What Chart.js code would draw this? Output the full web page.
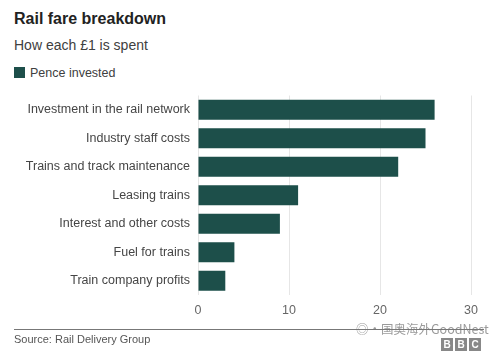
<!DOCTYPE html>
<html>
<head>
<meta charset="utf-8">
<script src="https://cdn.jsdelivr.net/npm/chart.js@4"></script>
<style>
    body { margin: 0; width: 498px; height: 354px; background: #fff; font-family: "Liberation Sans", Arial, sans-serif; position: relative; overflow: hidden; }
    .title { position: absolute; left: 14px; top: 10px; font-size: 16px; font-weight: bold; color: #222; }
    .subtitle { position: absolute; left: 14px; top: 37px; font-size: 14px; color: #404040; }
    .legend { position: absolute; left: 14px; top: 66px; font-size: 12.5px; color: #404040; }
    .legend span.box { display: inline-block; width: 11px; height: 11px; background: #1d4f4a; vertical-align: -1px; margin-right: 5px; }
    #wrap { position: absolute; left: 0; top: 80px; width: 498px; height: 246px; }
    .rule { position: absolute; left: 14px; top: 329px; width: 470px; height: 1px; background: #777; }
    .source { position: absolute; left: 14px; top: 333px; font-size: 11px; color: #555; }
    .bbc { position: absolute; left: 441px; top: 334px; }
    .bbc span { display: inline-block; width: 12px; height: 13px; background: #888; color: #fff; font-size: 10px; font-weight: bold; text-align: center; line-height: 13px; margin-right: 2px; }
    .mark { position: absolute; left: 356px; top: 319px; font-size: 12.5px; color: rgba(120,120,120,0.75); font-family: "Noto Sans CJK SC", sans-serif; }
</style>
</head>
<body>
<div class="title">Rail fare breakdown</div>
<div class="subtitle">How each £1 is spent</div>
<div class="legend"><span class="box"></span>Pence invested</div>
<div id="wrap"><canvas id="chart"></canvas></div>
<div class="rule"></div>
<div class="source">Source: Rail Delivery Group</div>
<div class="mark">◎·国奥海外GoodNest</div>
<div class="bbc"><span>B</span><span>B</span><span>C</span></div>
<script>
// 항목과 값 (펜스)
const categories = [
    'Investment in the rail network',
    'Industry staff costs',
    'Trains and track maintenance',
    'Leasing trains',
    'Interest and other costs',
    'Fuel for trains',
    'Train company profits'
];
const penceValues = [26, 25, 22, 11, 9, 4, 3];
const xTicks = [0, 10, 20, 30];

const ctx = document.getElementById('chart').getContext('2d');
new Chart(ctx, {
    type: 'bar',
    data: {
        labels: categories,
        datasets: [{
            label: 'Pence invested',
            data: penceValues,
            backgroundColor: '#1d4f4a',
            barPercentage: 0.7,
            categoryPercentage: 1
        }]
    },
    options: {
        indexAxis: 'y',
        responsive: true,
        maintainAspectRatio: false,
        animation: false,
        layout: { padding: { top: 5, right: 27, left: 0, bottom: 0 } },
        plugins: {
            legend: { display: false },
            tooltip: { enabled: false }
        },
        scales: {
            x: {
                min: xTicks[0],
                max: xTicks[xTicks.length - 1],
                afterBuildTicks: (scale) => { scale.ticks = xTicks.map(v => ({ value: v })); },
                grid: { color: '#e6e6e6', drawTicks: false },
                border: { display: false },
                ticks: { color: '#666', font: { family: 'Liberation Sans', size: 12.5 }, padding: 8 }
            },
            y: {
                afterFit: (scale) => { scale.width = 198; },
                grid: { display: false, drawTicks: false },
                border: { display: false },
                ticks: { color: '#454545', font: { family: 'Liberation Sans', size: 12.5 }, padding: 8 }
            }
        }
    }
});
</script>
</body>
</html>
